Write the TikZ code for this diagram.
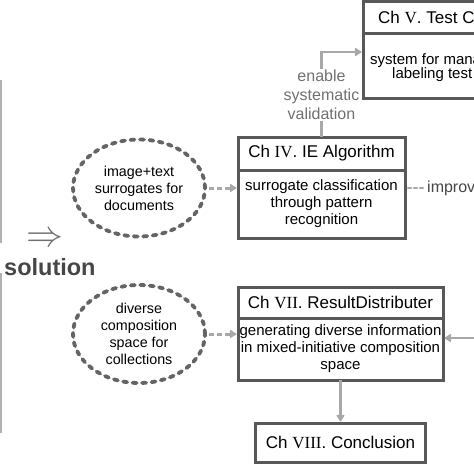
\documentclass[tikz,border=0pt]{standalone}
\usepackage{fix-cm}
\usepackage{fontspec}
\setmainfont{Liberation Sans}
\newfontfamily\romfont{Liberation Serif}
\usepackage{tikz}
\usetikzlibrary{
  arrows.meta,
  positioning,
  shapes,
}
\definecolor{boxgray}{RGB}{88, 88, 88}
\definecolor{ovalgray}{RGB}{100, 100, 100}
\definecolor{arrowgray}{RGB}{168, 168, 168}
\definecolor{labelgray}{RGB}{112, 112, 112}
\definecolor{headgray}{RGB}{70, 70, 70}
\tikzstyle{link} = [
  line width=2.5pt,
  arrowgray,
]
\tikzstyle{arrow} = [
  link,
  -{Latex[round,length=8pt,width=10pt]},
  shorten >=1.5pt,
]
\tikzstyle{dasharrow} = [
  arrow,
  line width=3pt,
  dash pattern=on 5pt off 3pt,
  shorten <=2pt,
]
\tikzstyle{chtitle} = [
  draw=boxgray,
  line width=3pt,
  rectangle,
  outer sep=0pt,
  inner sep=1pt,
  font=\fontsize{17}{20}\selectfont,
]
\tikzstyle{chbody} = [
  chtitle,
  align=center,
  font=\fontsize{15}{17}\selectfont,
]
\tikzstyle{surrogate} = [
  draw=ovalgray,
  ellipse,
  line width=3.8pt,
  dash pattern=on 4pt off 5.5pt,
  line cap=round,
  align=center,
  inner sep=0pt,
  minimum width=132,
  font=\fontsize{14.3}{17}\selectfont,
]
\tikzstyle{note} = [
  text=labelgray,
  align=center,
  inner sep=1pt,
  font=\fontsize{16}{19}\selectfont,
]
\newcommand{\rom}[1]{{\romfont #1}}

\begin{document}
\begin{tikzpicture}[x=1pt, y=-1pt, node distance=0pt and 0pt]
        \clip (0,0) rectangle (474,474);
        % left rule and heading
        \draw[link, line width=2.2pt, color=arrowgray!90] (1,80) -- (1,243) (1,273) -- (1,433);
        \node[text=labelgray, inner sep=0pt, font=\fontsize{37}{37}\selectfont] (impl) at (44.5,240) {$\Rightarrow$};
        \node[anchor=base west, inner sep=0pt, text=headgray, font=\bfseries\fontsize{23.5}{28}\selectfont] (sol) at (4,275) {solution};

        % chapter boxes
        \node[chtitle, minimum width=167, minimum height=33] (a4) at (321.5,153.5) {Ch \rom{IV}. IE Algorithm};
        \node[chbody, minimum width=167, minimum height=68] (a4b) [below=of a4] {surrogate classification\\through pattern\\recognition};

        \node[chtitle, minimum width=160, minimum height=32, anchor=north west] (a5) at (363,1) {};
        \node[chbody, minimum width=160, minimum height=65] (a5b) [below=of a5] {};
        \node[anchor=west, inner sep=0pt, font=\fontsize{17}{20}\selectfont] (a5t) at ([xshift=15pt]a5.west) {Ch \rom{V}. Test C};
        \node[anchor=west, inner sep=0pt, font=\fontsize{15}{17}\selectfont] (a5l1) at ([xshift=7pt,yshift=4.5pt]a5b.west) {system for mana};
        \node[anchor=west, inner sep=0pt, font=\fontsize{15}{17}\selectfont] (a5l2) at ([xshift=29pt,yshift=-9.5pt]a5b.west) {labeling test};

        \node[chtitle, minimum width=205, minimum height=31] (a7) at (340.5,302.5) {Ch \rom{VII}. ResultDistributer};
        \node[chbody, minimum width=205, minimum height=62] (a7b) [below=of a7] {generating diverse information\\in mixed-initiative composition\\space};
        \node[chtitle, minimum width=170, minimum height=39] (a8) [below=43pt of a7b] {Ch \rom{VIII}. Conclusion};

        % surrogates
        \node[surrogate, minimum height=97] (e4) at (139,188) {image+text\\surrogates for\\documents};
        \node[surrogate, minimum height=98] (e7) at (139,334) {diverse\\composition\\space for\\collections};

        % connectors
        \draw[dasharrow] (e4.east) -- (e4.east -| a4b.west);
        \draw[dasharrow] (e7.east) -- (e7.east -| a7b.west);

        \node[note] (valid) at (321.5,95) {enable\\systematic\\validation};
        \draw[link] (a4.north) -- (valid.south);
        \draw[arrow] (valid.north) |- ([yshift=13.5pt]a5b.west);

        \node[note, anchor=west, inner sep=0pt, text=headgray] (improv) at (427,188) {improv};
        \draw[link, dash pattern=on 3pt off 3pt, line cap=round, shorten <=3pt, shorten >=2pt] (improv.west -| a4b.east) -- (improv.west);

        \coordinate (fromright) at (482,338);
        \draw[arrow] (fromright) -- ([yshift=11pt]a7b.east);
        \draw[arrow] (a7b.south) -- (a8.north);
    \end{tikzpicture}
\end{document}
